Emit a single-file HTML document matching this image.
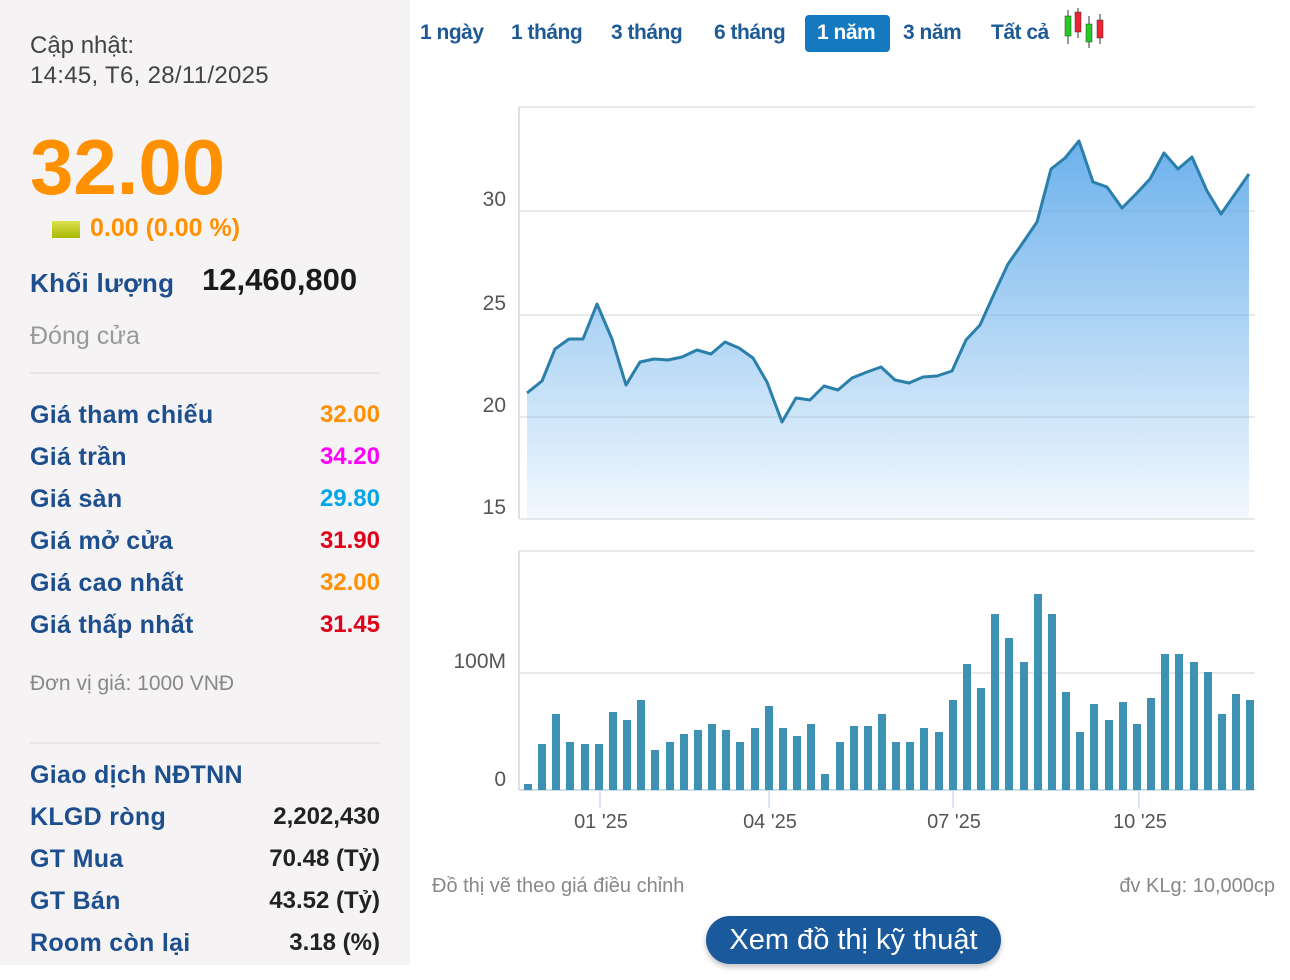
<!DOCTYPE html>
<html><head><meta charset="utf-8"><style>
body{margin:0;width:1290px;height:980px;background:#fff;font-family:"Liberation Sans",sans-serif;position:relative;overflow:hidden}
.l{position:absolute;left:0;top:0;width:410px;height:965px;background:#f5f3f3}
.a{position:absolute;white-space:nowrap}
.b{font-weight:bold;color:#1d4f8f;font-size:25px;letter-spacing:0.3px}
.v{font-weight:bold;font-size:24px;right:30px}
.hr{position:absolute;left:30px;width:350px;height:2px;background:#e8e6e6}
.tab{position:absolute;top:21px;font-weight:bold;font-size:21px;color:#1d5a96;letter-spacing:-0.5px}
</style></head><body>
<div class="l">
<div class="a" style="left:30px;top:32px;font-size:24px;color:#444">Cập nhật:</div>
<div class="a" style="left:30px;top:62px;font-size:24px;color:#444;letter-spacing:0.3px">14:45, T6, 28/11/2025</div>
<div class="a" style="left:30px;top:122px;font-size:78px;font-weight:bold;color:#ff9000">32.00</div>
<div class="a" style="left:52px;top:221px;width:28px;height:17px;background:linear-gradient(#dbe050,#a9b800)"></div>
<div class="a" style="left:90px;top:214px;font-size:25px;font-weight:bold;color:#ff9000">0.00 (0.00 %)</div>
<div class="a b" style="left:30px;top:268px;font-size:26px">Khối lượng</div>
<div class="a" style="left:202px;top:262px;font-size:31px;font-weight:bold;color:#1a1a1a">12,460,800</div>
<div class="a" style="left:30px;top:322px;font-size:25px;color:#999">Đóng cửa</div>
<div class="hr" style="top:372px"></div>
<div class="a b" style="left:30px;top:401px">Giá tham chiếu</div><div class="a v" style="top:401px;color:#ff9000">32.00</div>
<div class="a b" style="left:30px;top:443px">Giá trần</div><div class="a v" style="top:443px;color:#f0f">34.20</div>
<div class="a b" style="left:30px;top:485px">Giá sàn</div><div class="a v" style="top:485px;color:#00a6e8">29.80</div>
<div class="a b" style="left:30px;top:527px">Giá mở cửa</div><div class="a v" style="top:527px;color:#e0001a">31.90</div>
<div class="a b" style="left:30px;top:569px">Giá cao nhất</div><div class="a v" style="top:569px;color:#ff9000">32.00</div>
<div class="a b" style="left:30px;top:611px">Giá thấp nhất</div><div class="a v" style="top:611px;color:#e0001a">31.45</div>
<div class="a" style="left:30px;top:672px;font-size:21px;color:#888">Đơn vị giá: 1000 VNĐ</div>
<div class="hr" style="top:742px"></div>
<div class="a b" style="left:30px;top:761px">Giao dịch NĐTNN</div>
<div class="a b" style="left:30px;top:803px">KLGD ròng</div><div class="a v" style="top:803px;color:#222">2,202,430</div>
<div class="a b" style="left:30px;top:845px">GT Mua</div><div class="a v" style="top:845px;color:#222">70.48 (Tỷ)</div>
<div class="a b" style="left:30px;top:887px">GT Bán</div><div class="a v" style="top:887px;color:#222">43.52 (Tỷ)</div>
<div class="a b" style="left:30px;top:929px">Room còn lại</div><div class="a v" style="top:929px;color:#222">3.18 (%)</div>
</div>
<div class="tab" style="left:420px">1 ngày</div>
<div class="tab" style="left:511px">1 tháng</div>
<div class="tab" style="left:611px">3 tháng</div>
<div class="tab" style="left:714px">6 tháng</div>
<div class="a" style="left:805px;top:15px;width:85px;height:37px;background:#1479be;border-radius:4px"></div>
<div class="tab" style="left:817px;color:#fff">1 năm</div>
<div class="tab" style="left:903px">3 năm</div>
<div class="tab" style="left:991px">Tất cả</div>
<svg class="a" style="left:1060px;top:6px" width="50" height="44">
<line x1="8" y1="4" x2="8" y2="38" stroke="#333"/><rect x="5" y="10" width="6" height="20" fill="#2c2" stroke="#333" stroke-width=".5"/>
<line x1="18" y1="2" x2="18" y2="32" stroke="#333"/><rect x="15" y="6" width="6" height="20" fill="#e23" stroke="#333" stroke-width=".5"/>
<line x1="29" y1="10" x2="29" y2="42" stroke="#333"/><rect x="26" y="18" width="6" height="18" fill="#2c2" stroke="#333" stroke-width=".5"/>
<line x1="40" y1="8" x2="40" y2="38" stroke="#333"/><rect x="37" y="14" width="6" height="18" fill="#e23" stroke="#333" stroke-width=".5"/>
</svg>
<svg class="a" style="left:0;top:0" width="1290" height="980">
<defs><linearGradient id="g" x1="0" y1="0" x2="0" y2="1"><stop offset="0" stop-color="#6cb1ec"/><stop offset="1" stop-color="#6cb1ec" stop-opacity="0.08"/></linearGradient></defs>
<g stroke="#e2e2e2" stroke-width="1.5"><line x1="519" y1="107" x2="1255" y2="107"/><line x1="519" y1="211" x2="1255" y2="211"/><line x1="519" y1="315" x2="1255" y2="315"/><line x1="519" y1="417" x2="1255" y2="417"/><line x1="519" y1="519" x2="1255" y2="519"/>
<line x1="519" y1="551" x2="1255" y2="551"/><line x1="519" y1="673" x2="1255" y2="673"/></g>
<line x1="519" y1="107" x2="519" y2="519" stroke="#d0d6e4" stroke-width="1.5"/>
<line x1="519" y1="551" x2="519" y2="790" stroke="#d0d6e4" stroke-width="1.5"/>
<line x1="519" y1="790" x2="1255" y2="790" stroke="#cfdcec" stroke-width="2"/>
<g stroke="#cfdcec" stroke-width="1.5"><line x1="600" y1="790" x2="600" y2="808"/><line x1="769" y1="790" x2="769" y2="808"/><line x1="953" y1="790" x2="953" y2="808"/><line x1="1139" y1="790" x2="1139" y2="808"/></g>
<polygon fill="url(#g)" points="527,519 527,393 542,381 555,349 569,339 583,339 597,304 612,339 626,385 640,362 654,359 668,360 682,357 697,350 711,354 725,342 739,348 753,358 767,382 782,422 796,398 810,400 824,386 838,390 852,378 867,372 881,367 895,380 909,383 923,377 937,376 952,371 966,340 980,325 994,294 1008,264 1022,244 1037,222 1051,169 1065,158 1079,141 1093,182 1107,187 1122,208 1136,194 1150,179 1164,153 1178,169 1192,157 1207,191 1221,214 1235,194 1249,174 1249,519"/>
<polyline fill="none" stroke="#2a7fab" stroke-width="3" stroke-linejoin="round" points="527,393 542,381 555,349 569,339 583,339 597,304 612,339 626,385 640,362 654,359 668,360 682,357 697,350 711,354 725,342 739,348 753,358 767,382 782,422 796,398 810,400 824,386 838,390 852,378 867,372 881,367 895,380 909,383 923,377 937,376 952,371 966,340 980,325 994,294 1008,264 1022,244 1037,222 1051,169 1065,158 1079,141 1093,182 1107,187 1122,208 1136,194 1150,179 1164,153 1178,169 1192,157 1207,191 1221,214 1235,194 1249,174"/>
<g fill="#3d92b4">
<rect x="524" y="784" width="8" height="6"/><rect x="538" y="744" width="8" height="46"/><rect x="552" y="714" width="8" height="76"/><rect x="566" y="742" width="8" height="48"/><rect x="581" y="744" width="8" height="46"/><rect x="595" y="744" width="8" height="46"/><rect x="609" y="712" width="8" height="78"/><rect x="623" y="720" width="8" height="70"/><rect x="637" y="700" width="8" height="90"/><rect x="651" y="750" width="8" height="40"/><rect x="666" y="742" width="8" height="48"/><rect x="680" y="734" width="8" height="56"/><rect x="694" y="730" width="8" height="60"/><rect x="708" y="724" width="8" height="66"/><rect x="722" y="730" width="8" height="60"/><rect x="736" y="742" width="8" height="48"/><rect x="751" y="728" width="8" height="62"/><rect x="765" y="706" width="8" height="84"/><rect x="779" y="728" width="8" height="62"/><rect x="793" y="736" width="8" height="54"/><rect x="807" y="724" width="8" height="66"/><rect x="821" y="774" width="8" height="16"/><rect x="836" y="742" width="8" height="48"/><rect x="850" y="726" width="8" height="64"/><rect x="864" y="726" width="8" height="64"/><rect x="878" y="714" width="8" height="76"/><rect x="892" y="742" width="8" height="48"/><rect x="906" y="742" width="8" height="48"/><rect x="920" y="728" width="8" height="62"/><rect x="935" y="732" width="8" height="58"/><rect x="949" y="700" width="8" height="90"/><rect x="963" y="664" width="8" height="126"/><rect x="977" y="688" width="8" height="102"/><rect x="991" y="614" width="8" height="176"/><rect x="1005" y="638" width="8" height="152"/><rect x="1020" y="662" width="8" height="128"/><rect x="1034" y="594" width="8" height="196"/><rect x="1048" y="614" width="8" height="176"/><rect x="1062" y="692" width="8" height="98"/><rect x="1076" y="732" width="8" height="58"/><rect x="1090" y="704" width="8" height="86"/><rect x="1105" y="720" width="8" height="70"/><rect x="1119" y="702" width="8" height="88"/><rect x="1133" y="724" width="8" height="66"/><rect x="1147" y="698" width="8" height="92"/><rect x="1161" y="654" width="8" height="136"/><rect x="1175" y="654" width="8" height="136"/><rect x="1190" y="662" width="8" height="128"/><rect x="1204" y="672" width="8" height="118"/><rect x="1218" y="714" width="8" height="76"/><rect x="1232" y="694" width="8" height="96"/><rect x="1246" y="700" width="8" height="90"/>
</g>
<g font-family="Liberation Sans" font-size="21" fill="#555" text-anchor="end">
<text x="506" y="206">30</text><text x="506" y="310">25</text><text x="506" y="412">20</text><text x="506" y="514">15</text>
<text x="506" y="668">100M</text><text x="506" y="786">0</text></g>
<g font-family="Liberation Sans" font-size="20" fill="#555" text-anchor="middle">
<text x="601" y="828">01 '25</text><text x="770" y="828">04 '25</text><text x="954" y="828">07 '25</text><text x="1140" y="828">10 '25</text></g>
<text x="432" y="892" font-family="Liberation Sans" font-size="20" fill="#888">Đồ thị vẽ theo giá điều chỉnh</text>
<text x="1275" y="892" font-family="Liberation Sans" font-size="20" fill="#888" text-anchor="end">đv KLg: 10,000cp</text>
</svg>
<div class="a" style="left:706px;top:916px;width:295px;height:48px;background:#1a5a9c;border-radius:24px;box-shadow:0 3px 6px rgba(0,0,0,.25);color:#fff;font-size:29px;text-align:center;line-height:48px">Xem đồ thị kỹ thuật</div>
</body></html>
